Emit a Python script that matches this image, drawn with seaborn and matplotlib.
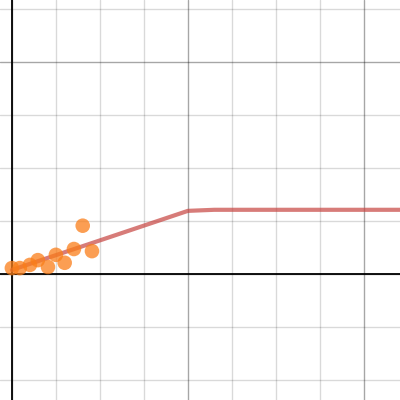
import numpy as np
import pandas as pd
import seaborn as sns
import matplotlib.pyplot as plt

# scatter points
pts_x = [0.0, 0.18, 0.41, 0.59, 0.82, 1.0, 1.2, 1.41, 1.61, 1.82]
pts_y = [0.11, 0.11, 0.17, 0.26, 0.13, 0.36, 0.21, 0.47, 0.91, 0.43]
# piecewise line
line_x = [0.0, 4.0, 4.6, 9.0]
line_y = [0.075, 1.19, 1.21, 1.21]

sns.set_style("white")
fig = plt.figure(figsize=(4, 4), dpi=100)
ax = fig.add_axes([0, 0, 1, 1])

# grid: minor every unit, major every 4
for gx in range(-1, 10):
    ax.axvline(gx, color="#000000", alpha=0.35 if gx % 4 == 0 else 0.15, lw=1, zorder=0)
for gy in range(-3, 6):
    ax.axhline(gy, color="#000000", alpha=0.35 if gy % 4 == 0 else 0.15, lw=1, zorder=0)
ax.axvline(0, color="black", lw=1.3, zorder=1)
ax.axhline(0, color="black", lw=1.3, zorder=1)

sns.lineplot(x=line_x, y=line_y, ax=ax, color="#c74440", alpha=0.7, lw=3, zorder=2)
sns.scatterplot(x=pts_x, y=pts_y, ax=ax, color="#fa7e19", alpha=0.75, s=110,
                edgecolor="none", zorder=3)

ax.set_xlim(-0.27, 8.82)
ax.set_ylim(-2.38, 5.17)
ax.set_xticks([])
ax.set_yticks([])
for s in ax.spines.values():
    s.set_visible(False)

fig.savefig("out.png", dpi=100)
